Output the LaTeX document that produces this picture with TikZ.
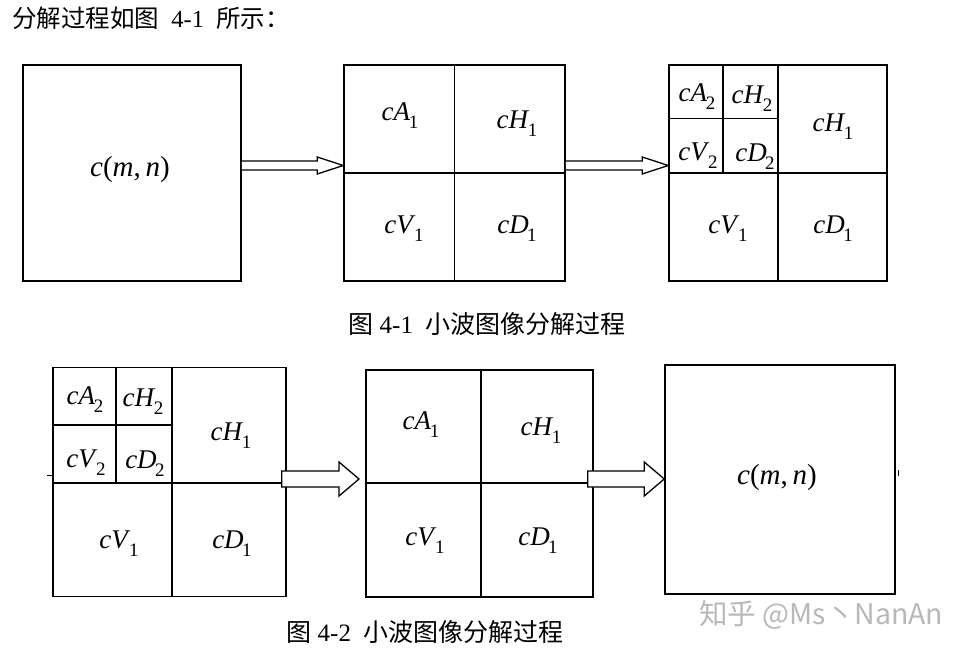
\documentclass[tikz,border=0pt]{standalone}
\usepackage{fontspec}
\setmainfont{Liberation Serif}
\newfontfamily\cjk{Noto Sans CJK SC}
\usetikzlibrary{calc}
\newcommand\lbl[2]{\textit{#1}\kern-1.5pt\raisebox{-8pt}{\fontsize{19}{19}\selectfont #2}}
\newcommand\cmn{\textit{c}(\textit{m},\,\textit{n})}
\tikzset{
  box/.style={draw, line width=1.5pt, inner sep=0pt},
  div/.style={line width=1.5pt},
  lab/.style={inner sep=0pt, font=\fontsize{27}{27}\selectfont},
  biglab/.style={inner sep=0pt, font=\fontsize{29}{29}\selectfont},
  harrow/.style={draw, line width=1.3pt, fill=white, line join=miter},
  captxt/.style={inner sep=0pt, font=\fontsize{25}{25}\selectfont},
}
\begin{document}
\begin{tikzpicture}[x=1pt,y=-1pt]
\useasboundingbox (0,0) rectangle (972,655);

% header
\node[captxt, anchor=west, font=\fontsize{24.5}{24.5}\selectfont] (hdr) at (12,18) {{\cjk 分解过程如图}\ \ 4-1\ \ {\cjk 所示：}};

% ---------- top row ----------
\node[box, minimum width=218pt, minimum height=216pt] (b1) at (132,173) {};
\node[box, minimum width=221pt, minimum height=216pt] (b2) at (454.5,173) {};
\node[box, minimum width=218pt, minimum height=216pt] (b3) at (778,173) {};

\draw[div] (b2.north) -- (b2.south);
\draw[div] (b2.west) -- (b2.east);
\draw[div] (b3.north) -- (b3.south);
\draw[div] (b3.west) -- (b3.east);
\coordinate (b3m) at ($(b3.north west)!0.5!(b3.north)$);
\draw[div] (b3m) -- (b3m |- b3.west);
\coordinate (b3h) at ($(b3.north west)!0.5!(b3.west)$);
\draw[div] (b3h) -- (b3h -| b3.north);

\node[biglab] (t1) at (130,170) {\cmn};
\node[lab] (t2a) at (400,116) {\lbl{cA}{1}};
\node[lab] (t2h) at (517,124) {\lbl{cH}{1}};
\node[lab] (t2v) at (404,229) {\lbl{cV}{1}};
\node[lab] (t2d) at (517,229) {\lbl{cD}{1}};
\node[lab] (t3a) at (697,97) {\lbl{cA}{2}};
\node[lab] (t3b) at (752,99) {\lbl{cH}{2}};
\node[lab] (t3c) at (698,156) {\lbl{cV}{2}};
\node[lab] (t3d) at (755,157) {\lbl{cD}{2}};
\node[lab] (t3h) at (833,127) {\lbl{cH}{1}};
\node[lab] (t3v) at (728,229) {\lbl{cV}{1}};
\node[lab] (t3dd) at (833,229) {\lbl{cD}{1}};

% thin hollow arrows
\coordinate (a1s) at (b1.east |- 0,165.5);
\coordinate (a1e) at (b2.west |- 0,165.5);
\draw[harrow] ($(a1s)+(0,-4.5)$) -- ($(a1e)+(-26,-4.5)$) -- ($(a1e)+(-26,-8.5)$) -- (a1e)
  -- ($(a1e)+(-26,8.5)$) -- ($(a1e)+(-26,4.5)$) -- ($(a1s)+(0,4.5)$);
\coordinate (a2s) at (b2.east |- 0,165.5);
\coordinate (a2e) at (b3.west |- 0,165.5);
\draw[harrow] ($(a2s)+(0,-4.5)$) -- ($(a2e)+(-26,-4.5)$) -- ($(a2e)+(-26,-8.5)$) -- (a2e)
  -- ($(a2e)+(-26,8.5)$) -- ($(a2e)+(-26,4.5)$) -- ($(a2s)+(0,4.5)$);

\node[captxt] (cap1) at (487,324) {{\cjk 图}\ 4-1\ \ {\cjk 小波图像分解过程}};

% ---------- bottom row ----------
\node[box, minimum width=233pt, minimum height=229pt] (b4) at (169.5,482) {};
\node[box, minimum width=227pt, minimum height=227pt] (b5) at (479.5,483.5) {};
\node[box, minimum width=230pt, minimum height=229pt] (b6) at (780,479.5) {};

\coordinate (b4v) at (172,0);
\coordinate (b4hy) at (0,483);
\draw[div] (b4v |- b4.north) -- (b4v |- b4.south);
\draw[div] (b4.west |- b4hy) -- (b4.east |- b4hy);
\coordinate (b4m) at (116,0);
\draw[div] (b4m |- b4.north) -- (b4m |- b4hy);
\coordinate (b4h) at (0,425);
\draw[div] (b4.west |- b4h) -- (b4v |- b4h);

\coordinate (b5v) at (481,0);
\draw[div] (b5v |- b5.north) -- (b5v |- b5.south);
\draw[div] (b5.west |- b4hy) -- (b5.east |- b4hy);

\node[lab] (u4a) at (85,400) {\lbl{cA}{2}};
\node[lab] (u4b) at (143,402) {\lbl{cH}{2}};
\node[lab] (u4c) at (86,463) {\lbl{cV}{2}};
\node[lab] (u4d) at (145,464) {\lbl{cD}{2}};
\node[lab] (u4h) at (231,436) {\lbl{cH}{1}};
\node[lab] (u4v) at (119,544) {\lbl{cV}{1}};
\node[lab] (u4dd) at (232,544) {\lbl{cD}{1}};
\node[lab] (u5a) at (421,425) {\lbl{cA}{1}};
\node[lab] (u5h) at (541,431) {\lbl{cH}{1}};
\node[lab] (u5v) at (425,541) {\lbl{cV}{1}};
\node[lab] (u5d) at (538,541) {\lbl{cD}{1}};
\node[biglab] (u6) at (777,478) {\cmn};

% fat hollow arrows
\coordinate (a3s) at ($(b4.east |- 0,479)+(-5,0)$);
\coordinate (a3e) at (359,479);
\draw[harrow] ($(a3s)+(0,-8)$) -- ($(a3e)+(-20,-8)$) -- ($(a3e)+(-20,-17)$) -- (a3e)
  -- ($(a3e)+(-20,17)$) -- ($(a3e)+(-20,8)$) -- ($(a3s)+(0,8)$) -- cycle;
\coordinate (a4s) at ($(b5.east |- 0,479)+(-6,0)$);
\coordinate (a4e) at (b6.west |- 0,479);
\draw[harrow] ($(a4s)+(0,-8)$) -- ($(a4e)+(-20,-8)$) -- ($(a4e)+(-20,-17)$) -- (a4e)
  -- ($(a4e)+(-20,17)$) -- ($(a4e)+(-20,8)$) -- ($(a4s)+(0,8)$) -- cycle;

% small stray ticks
\coordinate (tk1) at (47,475);
\draw[line width=1pt] (tk1) -- ($(b4.west |- tk1)$);
\coordinate (tk2) at (898,470);
\draw[line width=1pt] (tk2) -- ++(0,6);

\node[captxt] (cap2) at (425,632) {{\cjk 图}\ 4-2\ \ {\cjk 小波图像分解过程}};

% watermark
\node[inner sep=0pt, anchor=west, text=black!28, font=\cjk\fontsize{28.5}{28.5}\selectfont] (wm) at (699,615) {知乎 @Ms丶NanAn};
\end{tikzpicture}
\end{document}
